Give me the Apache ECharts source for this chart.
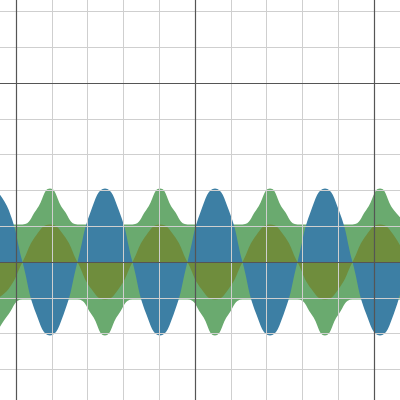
<!DOCTYPE html>
<html><head><meta charset="utf-8">
<script src="https://cdn.jsdelivr.net/npm/echarts@6/dist/echarts.min.js"></script>
<style>html,body{margin:0;padding:0;background:#fff}#c{width:400px;height:400px}</style>
</head><body><div id="c"></div>
<script>
// sample x positions (graph units)
var xs = [];
for (var i = 0; i < 31; i++) xs.push((-5 + i * 13.75 - 16) / 179);
// blue curve envelope, green band limits, olive curve
var blueY = [0.41,0.29,0,-0.29,-0.41,-0.29,0,0.29, 0.41,0.29,0,-0.29,-0.41,-0.29,0,0.29,
             0.41,0.29,0,-0.29,-0.41,-0.29,0,0.29, 0.41,0.29,0,-0.29,-0.41,-0.29,0];
var greenTop = [0.21,0.21,0.21,0.29,0.41,0.29,0.21,0.21, 0.21,0.21,0.21,0.29,0.41,0.29,0.21,0.21,
                0.21,0.21,0.21,0.29,0.41,0.29,0.21,0.21, 0.21,0.21,0.21,0.29,0.41,0.29,0.21];
var greenBot = [-0.41,-0.29,-0.21,-0.21,-0.21,-0.21,-0.21,-0.29, -0.41,-0.29,-0.21,-0.21,-0.21,-0.21,-0.21,-0.29,
                -0.41,-0.29,-0.21,-0.21,-0.21,-0.21,-0.21,-0.29, -0.41,-0.29,-0.21,-0.21,-0.21,-0.21,-0.21];
var oliveY = [-0.21,-0.15,0,0.15,0.21,0.15,0,-0.15, -0.21,-0.15,0,0.15,0.21,0.15,0,-0.15,
              -0.21,-0.15,0,0.15,0.21,0.15,0,-0.15, -0.21,-0.15,0,0.15,0.21,0.15,0];
var minorX = [0.2,0.4,0.6,0.8,1.2,1.4,1.6,1.8,2.0];
var majorX = [0,1,2];
var minorY = [-0.6,-0.4,-0.2,0.2,0.4,0.6,0.8,1.2,1.4];
var majorY = [0,1];

function pts(ys){ return xs.map(function(x,i){ return [x, ys[i]]; }); }
function area(ys, color, z){
  return {type:'line',data:pts(ys),showSymbol:false,smooth:true,lineStyle:{width:0},
          areaStyle:{color:color,opacity:1,origin:0},z:z};
}
var lines = [];
minorX.forEach(function(v){ lines.push({xAxis:v, lineStyle:{color:'#cfcfcf',width:1,type:'solid'}}); });
minorY.forEach(function(v){ lines.push({yAxis:v, lineStyle:{color:'#cfcfcf',width:1,type:'solid'}}); });
majorX.forEach(function(v){ lines.push({xAxis:v, lineStyle:{color:'#555',width:1.2,type:'solid'}}); });
majorY.forEach(function(v){ lines.push({yAxis:v, lineStyle:{color:'#555',width:1.2,type:'solid'}}); });

var chart = echarts.init(document.getElementById('c'));
chart.setOption({
  animation:false,
  grid:{left:0,right:0,top:0,bottom:0},
  xAxis:{type:'value',min:-16/179,max:384/179,show:false},
  yAxis:{type:'value',min:-138/179,max:262/179,show:false},
  series:[
    {type:'line',data:[],markLine:{silent:true,symbol:'none',label:{show:false},data:lines},z:1},
    area(greenTop,'#6aaa6f',2),
    area(greenBot,'#6aaa6f',2),
    area(oliveY,'#6f8d3d',3),
    area(blueY,'#3d7fa4',4)
  ]
});
</script></body></html>
